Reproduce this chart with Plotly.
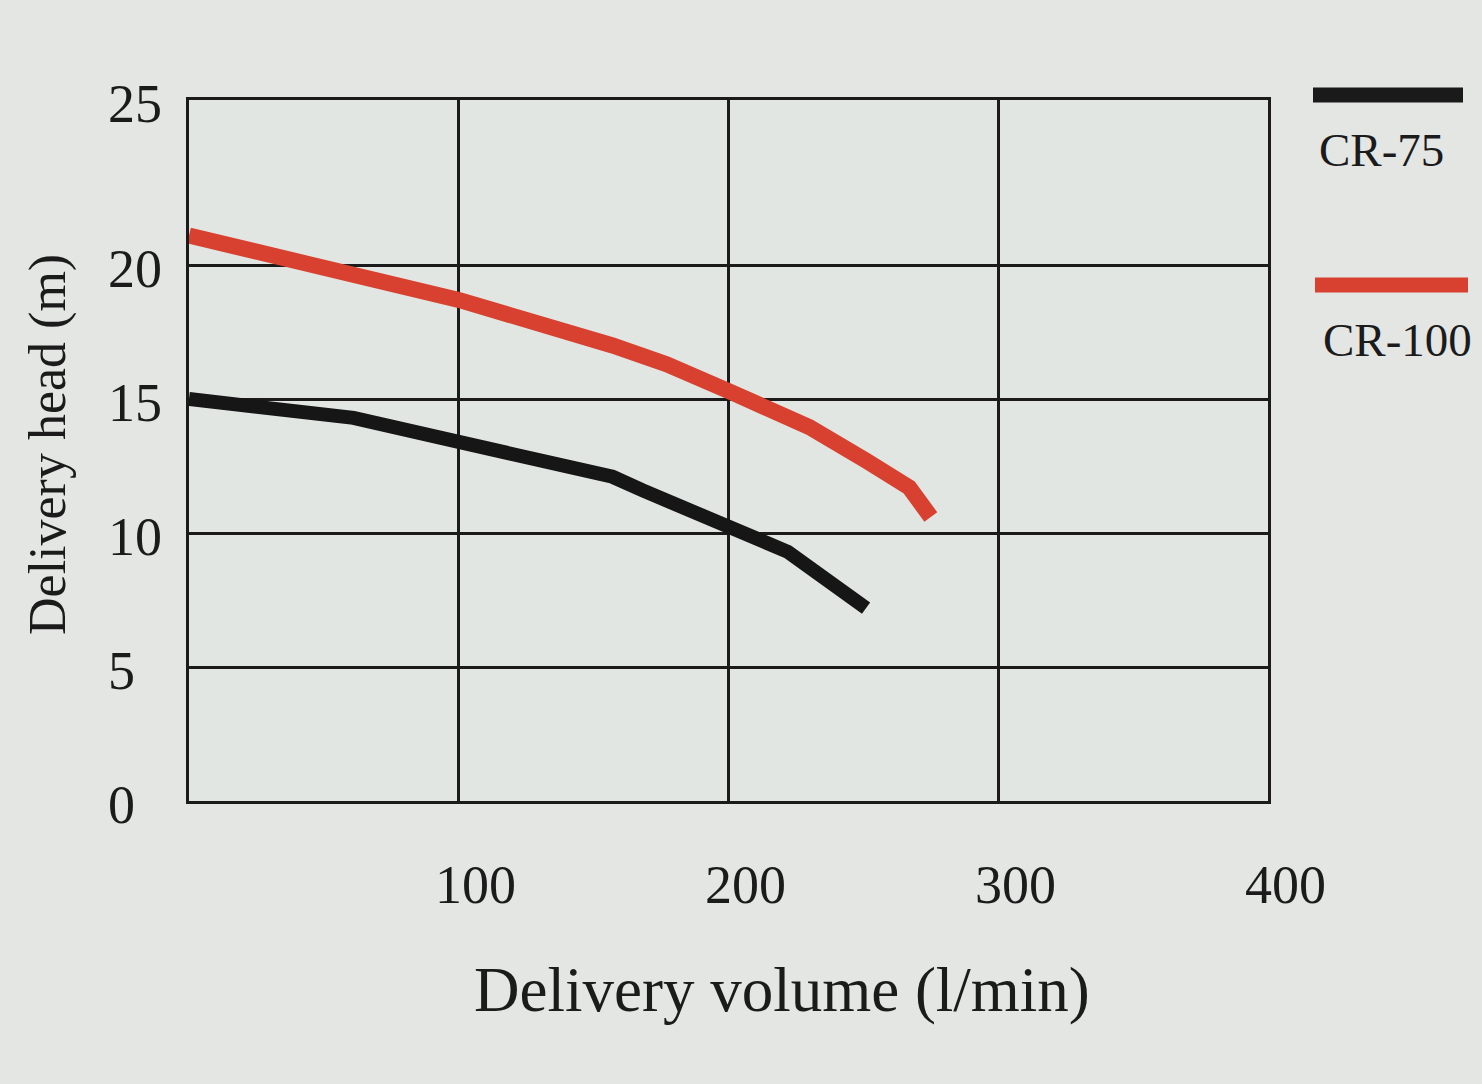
import plotly.graph_objects as go

# ---- data ----
flow_cr75 = [0, 19, 61, 100, 157, 168, 200, 222, 251]
head_cr75 = [15.0, 14.8, 14.3, 13.4, 12.1, 11.6, 10.2, 9.3, 7.2]

flow_cr100 = [0, 61, 100, 157, 177, 200, 230, 251, 267, 275]
head_cr100 = [21.1, 19.7, 18.7, 17.0, 16.3, 15.3, 13.95, 12.7, 11.7, 10.6]

series_names = ["CR-75", "CR-100"]
x_grid = [0, 100, 200, 300, 400]
x_tick_vals = [100, 200, 300, 400]
x_tick_labels = ["100", "200", "300", "400"]
y_tick_vals = [0, 5, 10, 15, 20]
y_tick_labels = ["0", "5", "10", "15", "20"]
y_top_label = "25"

x_title = "Delivery volume (l/min)"
y_title = "Delivery head (m)"

# ---- layout constants ----
W_FIG, H_FIG = 1482, 1084
L, R, T, B = 189, 1268, 100, 801
PW, PH = R - L, B - T
Y_TOP = 26.16  # printed top border (labelled 25) sits above a uniform 25
FONT = "Liberation Serif, Times New Roman, serif"
INK = "#1b1b1b"
RED = "#d8412f"
BG = "#e4e6e4"
PLOT_BG = "#e2e6e3"


def fx(p):
    return (p - L) / PW


def fy(p):
    return (B - p) / PH


fig = go.Figure()
fig.add_trace(go.Scatter(x=flow_cr100, y=head_cr100, mode="lines", name=series_names[1],
                         line=dict(color=RED, width=16), showlegend=False))
fig.add_trace(go.Scatter(x=flow_cr75, y=head_cr75, mode="lines", name=series_names[0],
                         line=dict(color="#161616", width=14), showlegend=False))

fig.update_xaxes(range=[0, 400], tickvals=x_grid, showticklabels=False, ticks="",
                 showgrid=True, gridcolor=INK, gridwidth=2.5,
                 showline=True, linecolor=INK, linewidth=3, mirror=True, zeroline=False)
fig.update_yaxes(range=[0, Y_TOP], tickvals=y_tick_vals + [Y_TOP], showticklabels=False, ticks="",
                 showgrid=True, gridcolor=INK, gridwidth=2.5,
                 showline=True, linecolor=INK, linewidth=3, mirror=True, zeroline=False)

ann = []
for v, t in zip(y_tick_vals + [Y_TOP], y_tick_labels + [y_top_label]):
    ann.append(dict(x=fx(106), xref="paper", xanchor="left", y=v, yref="y", yanchor="middle",
                    yshift=-4, text=t, showarrow=False, font=dict(family=FONT, size=54, color=INK)))
for v, t in zip(x_tick_vals, x_tick_labels):
    ann.append(dict(x=v, xref="x", xanchor="center", xshift=17, y=fy(885), yref="paper",
                    yanchor="middle", text=t, showarrow=False,
                    font=dict(family=FONT, size=54, color=INK)))
ann.append(dict(x=fx(782), xref="paper", y=fy(990), yref="paper", xanchor="center", yanchor="middle",
                text=x_title, showarrow=False, font=dict(family=FONT, size=63, color=INK)))
ann.append(dict(x=fx(48), xref="paper", y=fy(445), yref="paper", xanchor="center", yanchor="middle",
                text=y_title, textangle=-90, showarrow=False, font=dict(family=FONT, size=52, color=INK)))
# legend labels
ann.append(dict(x=fx(1381), xref="paper", y=fy(150), yref="paper", xanchor="center", yanchor="middle",
                text=series_names[0], showarrow=False, font=dict(family=FONT, size=47, color=INK)))
ann.append(dict(x=fx(1397), xref="paper", y=fy(340), yref="paper", xanchor="center", yanchor="middle",
                text=series_names[1], showarrow=False, font=dict(family=FONT, size=47, color=INK)))

shapes = [
    dict(type="line", xref="paper", yref="paper", x0=fx(1313), x1=fx(1463), y0=fy(95), y1=fy(95),
         line=dict(color="#1a1a1a", width=15)),
    dict(type="line", xref="paper", yref="paper", x0=fx(1315), x1=fx(1468), y0=fy(285), y1=fy(285),
         line=dict(color=RED, width=15)),
]

fig.update_layout(width=W_FIG, height=H_FIG, autosize=False,
                  margin=dict(l=L, r=W_FIG - R, t=T, b=H_FIG - B, pad=0),
                  paper_bgcolor=BG, plot_bgcolor=PLOT_BG,
                  annotations=ann, shapes=shapes, showlegend=False)

fig.write_html("out.html", config={"displayModeBar": False},
               post_script="document.body.style.margin='0';document.body.style.overflow='hidden';"
                           "document.body.style.background='" + BG + "';")
